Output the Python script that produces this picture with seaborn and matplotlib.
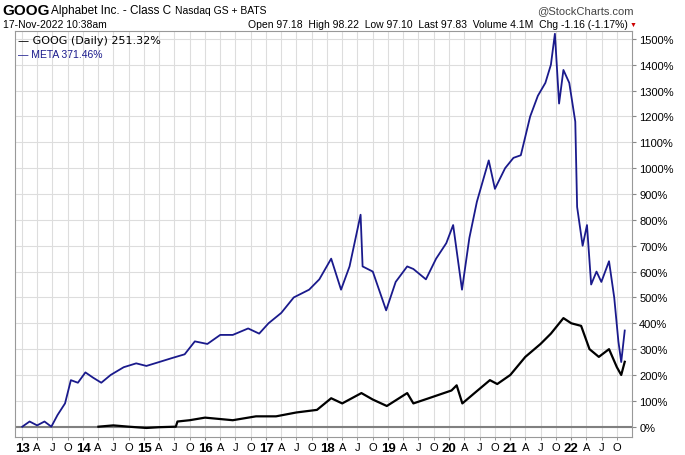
import numpy as np
import pandas as pd
import matplotlib
matplotlib.use("Agg")
import matplotlib.pyplot as plt
import matplotlib.dates as mdates
import seaborn as sns

plt.rcParams["font.family"] = "Liberation Sans"

# META % change since Jan 2013
meta_dates = ["2013-01-02", "2013-02-15", "2013-04-01", "2013-05-15", "2013-06-25", "2013-08-01",
              "2013-09-15", "2013-10-20", "2013-12-01", "2014-01-15", "2014-03-01", "2014-04-20",
              "2014-06-15", "2014-09-01", "2014-11-15", "2015-01-15", "2015-04-01", "2015-06-15",
              "2015-09-01", "2015-11-01", "2016-01-15", "2016-04-01", "2016-06-15", "2016-09-15",
              "2016-11-20", "2017-01-15", "2017-04-01", "2017-06-15", "2017-09-15", "2017-11-15",
              "2018-01-25", "2018-03-25", "2018-05-15", "2018-07-20", "2018-08-01", "2018-10-01",
              "2018-12-20", "2019-02-15", "2019-04-25", "2019-06-01", "2019-08-15", "2019-10-15",
              "2019-12-15", "2020-01-25", "2020-03-18", "2020-05-01", "2020-06-15", "2020-08-25",
              "2020-10-01", "2020-12-01", "2021-01-20", "2021-03-05", "2021-04-30", "2021-06-15",
              "2021-07-30", "2021-09-01", "2021-09-25", "2021-10-20", "2021-11-15", "2021-12-20",
              "2022-01-25", "2022-02-05", "2022-03-10", "2022-04-05", "2022-04-30", "2022-06-01",
              "2022-06-30", "2022-08-15", "2022-09-15", "2022-10-10", "2022-10-27", "2022-11-17"]
meta_pct = [0, 20, 5, 20, 0, 45,
            90, 180, 170, 210, 190, 170,
            200, 230, 245, 235, 250, 265,
            280, 330, 320, 355, 355, 380,
            360, 400, 440, 500, 530, 570,
            650, 530, 620, 820, 620, 600,
            450, 560, 620, 610, 570, 650,
            710, 780, 530, 730, 870, 1030,
            920, 1000, 1040, 1050, 1200, 1280,
            1330, 1400, 1520, 1250, 1380, 1330,
            1180, 850, 700, 780, 550, 600,
            560, 640, 500, 330, 250, 372]

# GOOG (class C, from Apr 2014)
goog_dates = ["2014-04-03", "2014-07-01", "2014-10-01", "2015-01-15", "2015-04-01", "2015-07-10",
              "2015-07-20", "2015-10-01", "2016-01-01", "2016-06-15", "2016-11-01", "2017-03-01",
              "2017-07-01", "2017-11-01", "2018-01-25", "2018-04-01", "2018-07-25", "2018-10-01",
              "2018-12-24", "2019-04-25", "2019-06-01", "2019-09-01", "2020-01-15", "2020-02-15",
              "2020-03-20", "2020-06-01", "2020-09-01", "2020-10-15", "2021-01-01", "2021-04-01",
              "2021-07-01", "2021-09-01", "2021-11-15", "2022-01-01", "2022-03-01", "2022-04-20",
              "2022-06-15", "2022-08-15", "2022-10-01", "2022-10-27", "2022-11-17"]
goog_pct = [0, 5, 0, -5, -2, 0,
            20, 25, 35, 25, 40, 40,
            55, 65, 110, 90, 130, 105,
            80, 130, 90, 110, 140, 160,
            90, 130, 180, 165, 200, 270,
            320, 360, 420, 400, 390, 300,
            270, 300, 230, 200, 251]

meta = pd.DataFrame({"date": pd.to_datetime(meta_dates), "pct": meta_pct})
goog = pd.DataFrame({"date": pd.to_datetime(goog_dates), "pct": goog_pct})

fig = plt.figure(figsize=(6.85, 4.56), dpi=100)
ax = fig.add_axes([0.022, 0.04, 0.901, 0.89])

sns.lineplot(data=meta, x="date", y="pct", ax=ax, color="#1a1a8c", lw=1.3)
sns.lineplot(data=goog, x="date", y="pct", ax=ax, color="#000000", lw=1.6)
ax.axhline(0, color="#808080", lw=1.5, zorder=1)

ax.set_xlim(pd.Timestamp("2012-11-20"), pd.Timestamp("2023-01-01"))
ax.set_ylim(-39, 1531)
ax.set_xlabel("")
ax.set_ylabel("")

ax.yaxis.tick_right()
ax.set_yticks(range(0, 1600, 100))
ax.set_yticklabels([f"{v}%" for v in range(0, 1600, 100)], fontsize=8)
ax.tick_params(axis="y", length=3, pad=2, color="#888888")

years = pd.date_range("2013-01-01", "2022-01-01", freq="YS")
months = [d for d in pd.date_range("2013-04-01", "2022-10-01", freq="QS") if d.month != 1]
ax.set_xticks(years)
ax.set_xticklabels([d.strftime("%y") for d in years], fontsize=9.5, fontweight="bold")
ax.set_xticks(months, minor=True)
ax.set_xticklabels([{4: "A", 7: "J", 10: "O"}[d.month] for d in months], minor=True, fontsize=8)
ax.tick_params(axis="x", which="both", length=2, pad=2, color="#888888")

ax.grid(True, which="both", color="#dddddd", lw=0.8)
ax.set_axisbelow(True)
for s in ax.spines.values():
    s.set_color("#999999")

fig.text(0.004, 0.975, "GOOG", fontsize=11, fontweight="bold", va="center")
fig.text(0.075, 0.975, "Alphabet Inc. - Class C", fontsize=8.5, va="center")
fig.text(0.255, 0.975, "Nasdaq GS + BATS", fontsize=7.5, va="center")
fig.text(0.925, 0.975, "@StockCharts.com", fontsize=8, va="center", ha="right", color="#444444")
fig.text(0.004, 0.945, "17-Nov-2022 10:38am", fontsize=7.5, va="center")
fig.text(0.916, 0.945, "Open 97.18  High 98.22  Low 97.10  Last 97.83  Volume 4.1M  Chg -1.16 (-1.17%)",
         fontsize=7.5, va="center", ha="right")
fig.text(0.919, 0.945, "\u25bc", fontsize=5, va="center", color="#cc0000")

ax.text(0.004, 0.99, "\u2014 GOOG (Daily) 251.32%", transform=ax.transAxes, fontsize=8,
        va="top", family="DejaVu Sans")
ax.text(0.004, 0.955, "\u2014 META 371.46%", transform=ax.transAxes, fontsize=7.5,
        va="top", color="#1a1a8c")

fig.savefig("out.png", dpi=100)
